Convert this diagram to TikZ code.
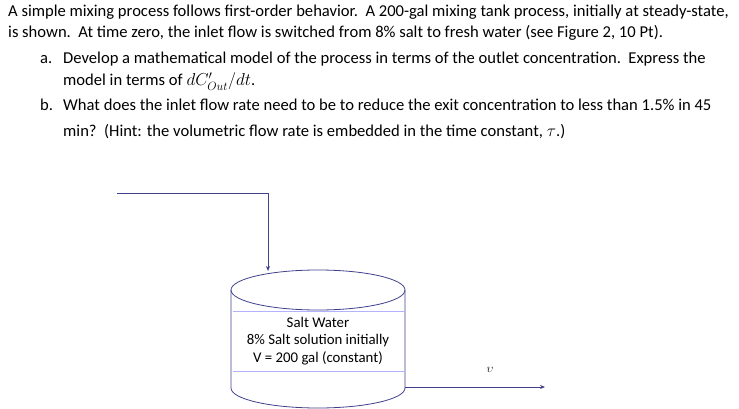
\documentclass[tikz,border=0pt]{standalone}
\usepackage{fontspec}
\setmainfont{Carlito}
\usepackage{amsmath}
\usetikzlibrary{arrows.meta}
\begin{document}
\begin{tikzpicture}[x=1pt,y=-1pt,
  txt/.style={anchor=base west,inner sep=0pt,font=\fontsize{16.6}{19}\selectfont},
  tk/.style={align=center,inner sep=0pt,font=\fontsize{14.8}{17.5}\selectfont},
  flow/.style={draw=blue!40!black!75,line width=0.8pt,-{Stealth[length=5pt,width=4pt]}}]
\useasboundingbox (0,0) rectangle (739,409);
\node[txt] (l1) at (8,17) {A simple mixing process follows first-order behavior.\ \ A 200-gal mixing tank process, initially at steady-state,};
\node[txt] (l2) at (8,38) {is shown.\ \ At time zero, the inlet flow is switched from 8\% salt to fresh water (see Figure 2, 10 Pt).};
\node[txt] (la) at (40,64) {a.};
\node[txt] (la1) at (63,64) {Develop a mathematical model of the process in terms of the outlet concentration.\ \ Express the};
\node[txt] (la2) at (63,86) {model in terms of $dC'_{Out}/dt$.};
\node[txt] (lb) at (40,111) {b.};
\node[txt] (lb1) at (63,111) {What does the inlet flow rate need to be to reduce the exit concentration to less than 1.5\% in 45};
\node[txt] (lb2) at (63,137) {min?\ \ (Hint: the volumetric flow rate is embedded in the time constant, $\tau$.)};
% tank
\draw[line width=0.8pt,draw=blue!40!black!75] (318,290) ellipse (87 and 20);
\draw[line width=0.8pt,draw=blue!40!black!75] (231,290) -- (231,388) arc[start angle=180,end angle=0,x radius=87,y radius=20] -- (405,290);
\draw[blue!30,line width=0.6pt] (233,311) -- (405,311) (233,371) -- (405,371);
\node[tk] (t) at (318,341) {Salt Water\\8\% Salt solution initially\\V = 200 gal (constant)};
\coordinate (in0) at (117,193);
\coordinate (in1) at (268,193);
\coordinate (in2) at (268,271);
\draw[flow] (in0) -- (in1) -- (in2);
\coordinate (o0) at (405,387);
\coordinate (o1) at (545,387);
\draw[flow] (o0) -- (o1);
\node[inner sep=0pt,font=\fontsize{13}{15}\selectfont] (v) at (490,370) {$\upsilon$};
\end{tikzpicture}
\end{document}
